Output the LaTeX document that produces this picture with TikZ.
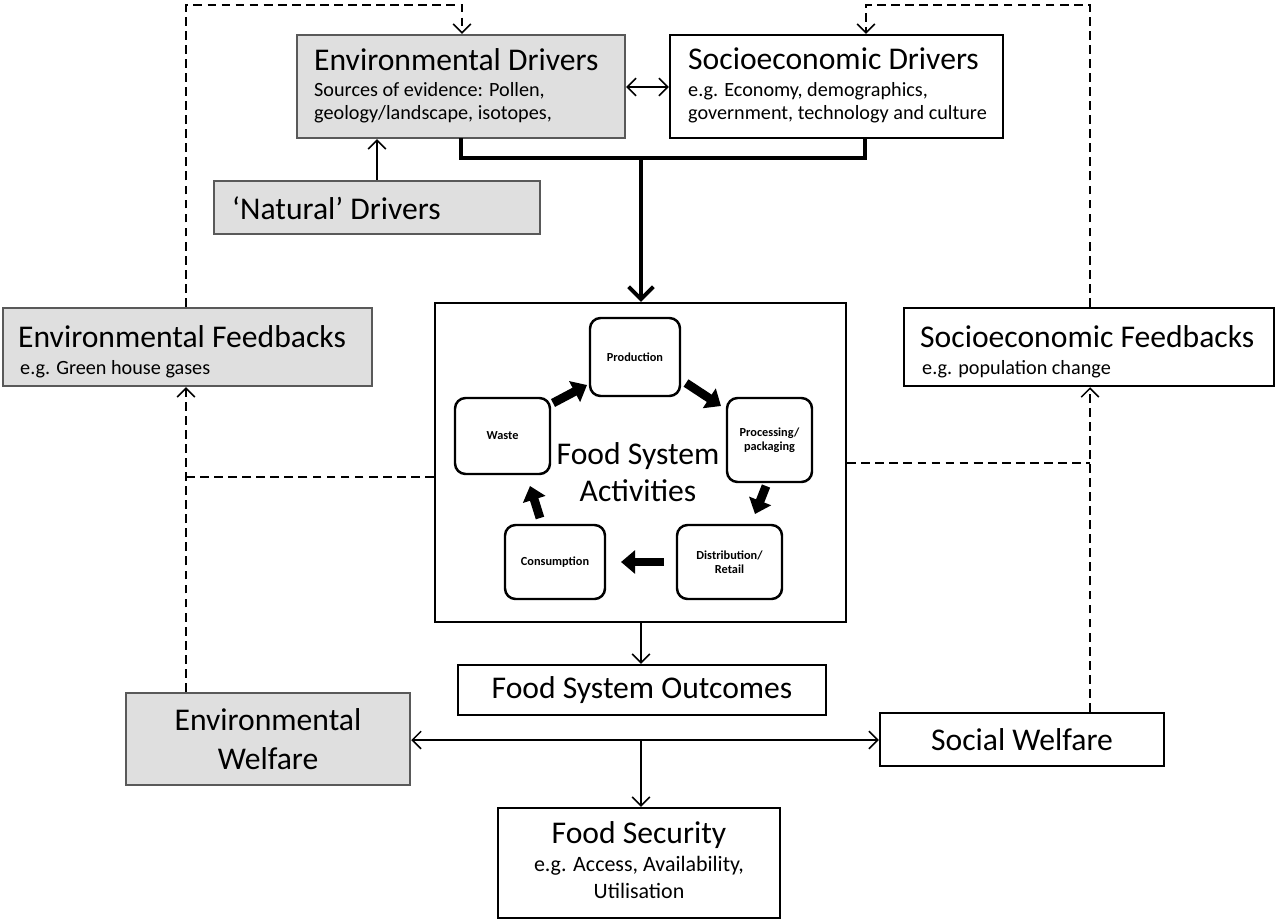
\documentclass[tikz,border=0pt]{standalone}
\usepackage{fontspec}
\setmainfont{Carlito}
\usetikzlibrary{arrows.meta}
\begin{document}
\begin{tikzpicture}[x=0.02cm,y=-0.02cm,
 box/.style={draw,line width=1.4pt,inner sep=0pt},
 gbox/.style={box,fill=gray!25,draw=gray!70!black},
 rb/.style={draw,line width=1.4pt,rounded corners=6pt,font=\fontsize{7}{8}\selectfont\bfseries,align=center,inner sep=0pt},
 dsh/.style={dash pattern=on 5pt off 3pt,line width=0.9pt},
 ar/.style={-{Straight Barb[length=5pt]},line width=0.9pt},
 bar/.style={line width=5pt,-{Triangle[length=8pt,width=13pt]}},
 tt/.style={font=\fontsize{18}{20}\selectfont},
 st/.style={font=\fontsize{11.5}{13}\selectfont}]
\useasboundingbox (0,0) rectangle (1277,923);
% boxes
\node[gbox,minimum width=328*0.02cm,minimum height=103*0.02cm] (ed) at (461,86.5) {};
\node[tt,anchor=north west] at (308,42) {Environmental Drivers};
\node[st,anchor=north west,align=left] at (308,76) {Sources of evidence: Pollen,\\geology/landscape, isotopes,};
\node[box,minimum width=333*0.02cm,minimum height=103*0.02cm] (sd) at (836.5,86.5) {};
\node[tt,anchor=north west] at (682,42) {Socioeconomic Drivers};
\node[st,anchor=north west,align=left] at (682,76) {e.g. Economy, demographics,\\government, technology and culture};
\node[gbox,minimum width=326*0.02cm,minimum height=53*0.02cm] (nd) at (377,207.5) {};
\node[tt,anchor=west] at (226,208) {‘Natural’ Drivers};
\node[gbox,minimum width=369*0.02cm,minimum height=78*0.02cm] (ef) at (187.5,347) {};
\node[tt,anchor=north west] at (12,319) {Environmental Feedbacks};
\node[st,anchor=north west] at (14,354) {e.g. Green house gases};
\node[box,minimum width=370*0.02cm,minimum height=78*0.02cm] (sf) at (1089,347) {};
\node[tt,anchor=north west] at (914,319) {Socioeconomic Feedbacks};
\node[st,anchor=north west] at (916,354) {e.g. population change};
\node[box,minimum width=411*0.02cm,minimum height=319*0.02cm] (fsa) at (640.5,462.5) {};
\node[font=\fontsize{18}{21}\selectfont,align=center] at (638,472) {Food System\\Activities};
\node[rb,minimum width=90*0.02cm,minimum height=78*0.02cm] (pr) at (635,357) {Production};
\node[rb,minimum width=85*0.02cm,minimum height=84*0.02cm] (pp) at (769.5,440) {Processing/\\packaging};
\node[rb,minimum width=105*0.02cm,minimum height=74*0.02cm] (di) at (729.5,562) {Distribution/\\Retail};
\node[rb,minimum width=100*0.02cm,minimum height=74*0.02cm] (co) at (555,562) {Consumption};
\node[rb,minimum width=95*0.02cm,minimum height=76*0.02cm] (wa) at (502.5,436) {Waste};
\node[box,tt,minimum width=368*0.02cm,minimum height=50*0.02cm] (fso) at (642,690) {Food System Outcomes};
\node[gbox,align=center,minimum width=284*0.02cm,minimum height=92*0.02cm,font=\fontsize{18}{22}\selectfont] (ew) at (268,739) {Environmental\\Welfare};
\node[box,tt,minimum width=284*0.02cm,minimum height=53*0.02cm] (sw) at (1022,739.5) {Social Welfare};
\node[box,minimum width=282*0.02cm,minimum height=110*0.02cm] (fs) at (639,863) {};
\node[tt,anchor=north] at (639,815) {Food Security};
\node[st,align=center,anchor=north,font=\fontsize{12.5}{15.5}\selectfont] at (639,850) {e.g. Access, Availability,\\Utilisation};
% connectors
\draw[{Straight Barb[length=5pt]}-{Straight Barb[length=5pt]},line width=0.9pt] (ed.east|-0,87) -- (sd.west|-0,87);
\draw[ar] (nd.north-|377,0) -- (ed.south-|377,0);
\coordinate (j) at (641,158);
\draw[line width=2.2pt] (461,138) |- (j) -| (865,138);
\draw[line width=2.2pt,-{Straight Barb[length=7pt]}] (j) -- (fsa.north-|j);
\draw[dsh,ar] (ef.north-|186,0) |- (462,5) -- (ed.north-|462,0);
\draw[dsh,ar] (sf.north-|1090,0) |- (866,5) -- (sd.north-|866,0);
\draw[dsh,ar] (ew.north-|186,0) -- (ef.south-|186,0);
\draw[dsh] (fsa.west|-0,477) -- (186,477);
\draw[dsh,ar] (sw.north-|1090,0) -- (sf.south-|1090,0);
\draw[dsh] (fsa.east|-0,463) -- (1090,463);
\draw[ar] (fsa.south-|641,0) -- (fso.north-|641,0);
\draw[{Straight Barb[length=5pt]}-{Straight Barb[length=5pt]},line width=0.9pt] (ew.east|-0,740) -- (sw.west|-0,740);
\draw[ar] (641,740) -- (fs.north-|641,0);
\draw[bar] (553,403) -- (587,385);
\draw[bar] (686,383) -- (721,406);
\draw[bar] (766,486) -- (755,514);
\draw[bar] (664,562) -- (621,562);
\draw[bar] (540,518) -- (530,486);
\end{tikzpicture}
\end{document}
